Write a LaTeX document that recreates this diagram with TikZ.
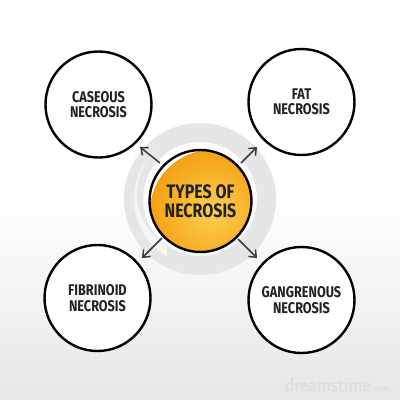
\documentclass[tikz,border=0pt]{standalone}
\usepackage{fontspec}
\newfontfamily\hand[FakeStretch=0.82]{Fira Sans}
\usetikzlibrary{arrows.meta}
\definecolor{ringgray}{RGB}{230,230,230}
\definecolor{orangeout}{RGB}{245,160,20}
\definecolor{orangein}{RGB}{252,208,80}
\definecolor{ink}{RGB}{34,34,34}
\definecolor{bggray}{RGB}{230,230,230}
\tikzset{
  outer/.style={circle, draw=black, line width=2.4pt, fill=white, minimum size=106pt, inner sep=0pt, align=center,
     text=ink, font=\hand\bfseries\fontsize{15.5}{15.5}\selectfont},
  arr/.style={-{Straight Barb[length=6pt,width=10pt]}, line width=1.5pt, draw={rgb,255:red,60;green,60;blue,60}}
}
\begin{document}
\begin{tikzpicture}[x=1pt,y=-1pt]
\useasboundingbox (0,0) rectangle (400,400);
\begin{scope}
\clip (0,0) rectangle (400,400);
\shade[top color=white, bottom color=bggray, middle color=white] (0,0) rectangle (400,400);
\end{scope}
% halo ring
\fill[ringgray, even odd rule] (200,199) circle (76) (200,199) circle (57);
\fill[white, opacity=0.6] (200,199) ++(120:66) arc (120:240:66) -- ++(0,0) arc (240:120:60) -- cycle;
% center
\begin{scope}
\clip (200.5,201) circle (51);
\shade[inner color=orangein, outer color=orangeout] (212,212) circle (62);
\end{scope}
\node[circle, draw=black, line width=2.4pt, minimum size=102pt, inner sep=0pt, align=center, text=ink,
  font=\hand\bfseries\fontsize{19.5}{19.5}\selectfont] (c) at (200.5,201) {TYPES OF\\NECROSIS};
\node[outer] (a) at (98.5,104.5) {CASEOUS\\NECROSIS};
\node[outer] (b) at (301.5,102) {FAT\\NECROSIS};
\node[outer] (d) at (97.5,298) {FIBRINOID\\NECROSIS};
\node[outer] (e) at (301.5,300) {GANGRENOUS\\NECROSIS};
\coordinate (sa) at (160,163);
\coordinate (sb) at (241,163);
\coordinate (sd) at (162,238);
\coordinate (se) at (238,239);
\coordinate (ta) at (140,147);
\coordinate (tb) at (257,147);
\coordinate (td) at (142,258);
\coordinate (te) at (257,258);
\draw[arr] (sa) -- (ta);
\draw[arr] (sb) -- (tb);
\draw[arr] (sd) -- (td);
\draw[arr] (se) -- (te);
\node[text=black!14, font=\sffamily\fontsize{19}{19}\selectfont, anchor=east] (wm) at (393,385) {dreamstime\fontsize{9}{9}\selectfont.com};
\end{tikzpicture}
\end{document}
